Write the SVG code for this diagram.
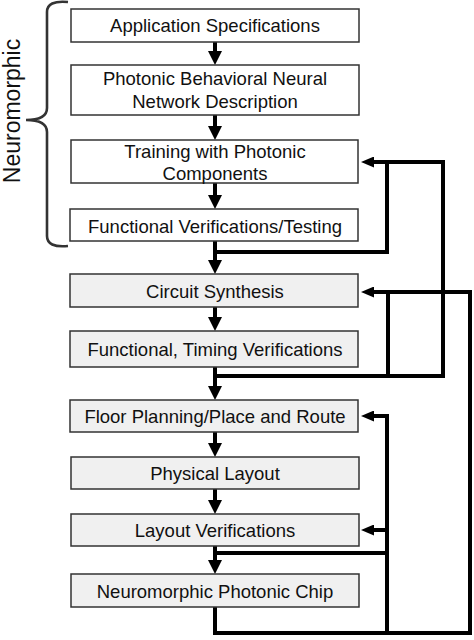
<svg xmlns="http://www.w3.org/2000/svg" width="474" height="640" viewBox="0 0 474 640">
<style>
.box{stroke:#333;stroke-width:1.5}
.w{fill:#fff}
.g{fill:#f0f0f0}
.t{font-family:"Liberation Sans",Arial,sans-serif;font-size:18.5px;fill:#111;text-anchor:middle}
.c{fill:none;stroke:#000;stroke-width:4;stroke-linejoin:miter;stroke-linecap:square}
.a{fill:none;stroke:#000;stroke-width:4;stroke-linecap:butt}
</style>
<defs>
<marker id="av" markerWidth="14" markerHeight="14" refX="1" refY="7" orient="auto" markerUnits="userSpaceOnUse" viewBox="0 0 14 14">
<path d="M0,0 L14,7 L0,14 Z" fill="#000"/>
</marker>
<marker id="ahz" markerWidth="13" markerHeight="11" refX="1" refY="5.5" orient="auto" markerUnits="userSpaceOnUse" viewBox="0 0 13 11">
<path d="M0,0 L13,5.5 L0,11 Z" fill="#000"/>
</marker>
</defs>
<rect width="474" height="640" fill="#fff"/>
<g id="bracket">
<path d="M68,2 Q47,0 47,12 L47,108 Q47,120 26,120 Q47,120 47,132 L47,236 Q47,248 68,246" fill="none" stroke="#333" stroke-width="2.6"/>
<text class="t" style="font-size:23px" transform="translate(20,111) rotate(-90)">Neuromorphic</text>
</g>
<g id="connectors">
<path class="a" d="M215,42 L215,52" marker-end="url(#av)"/>
<path class="a" d="M215,115 L215,127" marker-end="url(#av)"/>
<path class="a" d="M215,183 L215,196" marker-end="url(#av)"/>
<path class="a" d="M215,241 L215,261" marker-end="url(#av)"/>
<path class="a" d="M215,307 L215,318" marker-end="url(#av)"/>
<path class="a" d="M215,367 L215,387" marker-end="url(#av)"/>
<path class="a" d="M215,432 L215,444" marker-end="url(#av)"/>
<path class="a" d="M215,489 L215,501" marker-end="url(#av)"/>
<path class="a" d="M215,546 L215,561" marker-end="url(#av)"/>
<path class="c" d="M215,252 L387,252 L387,162 L373,162" marker-end="url(#ahz)"/>
<path class="c" d="M387,162 L443,162 L443,376 L215,376"/>
<path class="c" d="M388,376 L388,292 L373,292" marker-end="url(#ahz)"/>
<path class="c" d="M388,292 L470,292 L470,633 L215,633 L215,607"/>
<path class="c" d="M387,633 L387,416 L373,416" marker-end="url(#ahz)"/>
<path class="c" d="M387,530 L373,530" marker-end="url(#ahz)"/>
<path class="c" d="M215,553 L387,553"/>
</g>
<g id="n1"><rect class="box w" x="71" y="9" width="288" height="33"/><text class="t" x="215" y="32">Application Specifications</text></g>
<g id="n2"><rect class="box w" x="71" y="65" width="288" height="50"/><text class="t" x="215" y="85">Photonic Behavioral Neural</text><text class="t" x="215" y="108">Network Description</text></g>
<g id="n3"><rect class="box w" x="71" y="140" width="287" height="43"/><text class="t" x="215" y="158">Training with Photonic</text><text class="t" x="215" y="180">Components</text></g>
<g id="n4"><rect class="box w" x="70" y="209" width="288" height="32"/><text class="t" x="215" y="233">Functional Verifications/Testing</text></g>
<g id="n5"><rect class="box g" x="70" y="274" width="288" height="33"/><text class="t" x="215" y="298">Circuit Synthesis</text></g>
<g id="n6"><rect class="box g" x="70" y="331" width="288" height="36"/><text class="t" x="215" y="356">Functional, Timing Verifications</text></g>
<g id="n7"><rect class="box g" x="70" y="400" width="288" height="32"/><text class="t" x="215" y="423">Floor Planning/Place and Route</text></g>
<g id="n8"><rect class="box g" x="71" y="457" width="288" height="32"/><text class="t" x="215" y="480">Physical Layout</text></g>
<g id="n9"><rect class="box g" x="71" y="514" width="288" height="32"/><text class="t" x="215" y="537">Layout Verifications</text></g>
<g id="n10"><rect class="box g" x="71" y="574" width="288" height="33"/><text class="t" x="215" y="598">Neuromorphic Photonic Chip</text></g>
</svg>
